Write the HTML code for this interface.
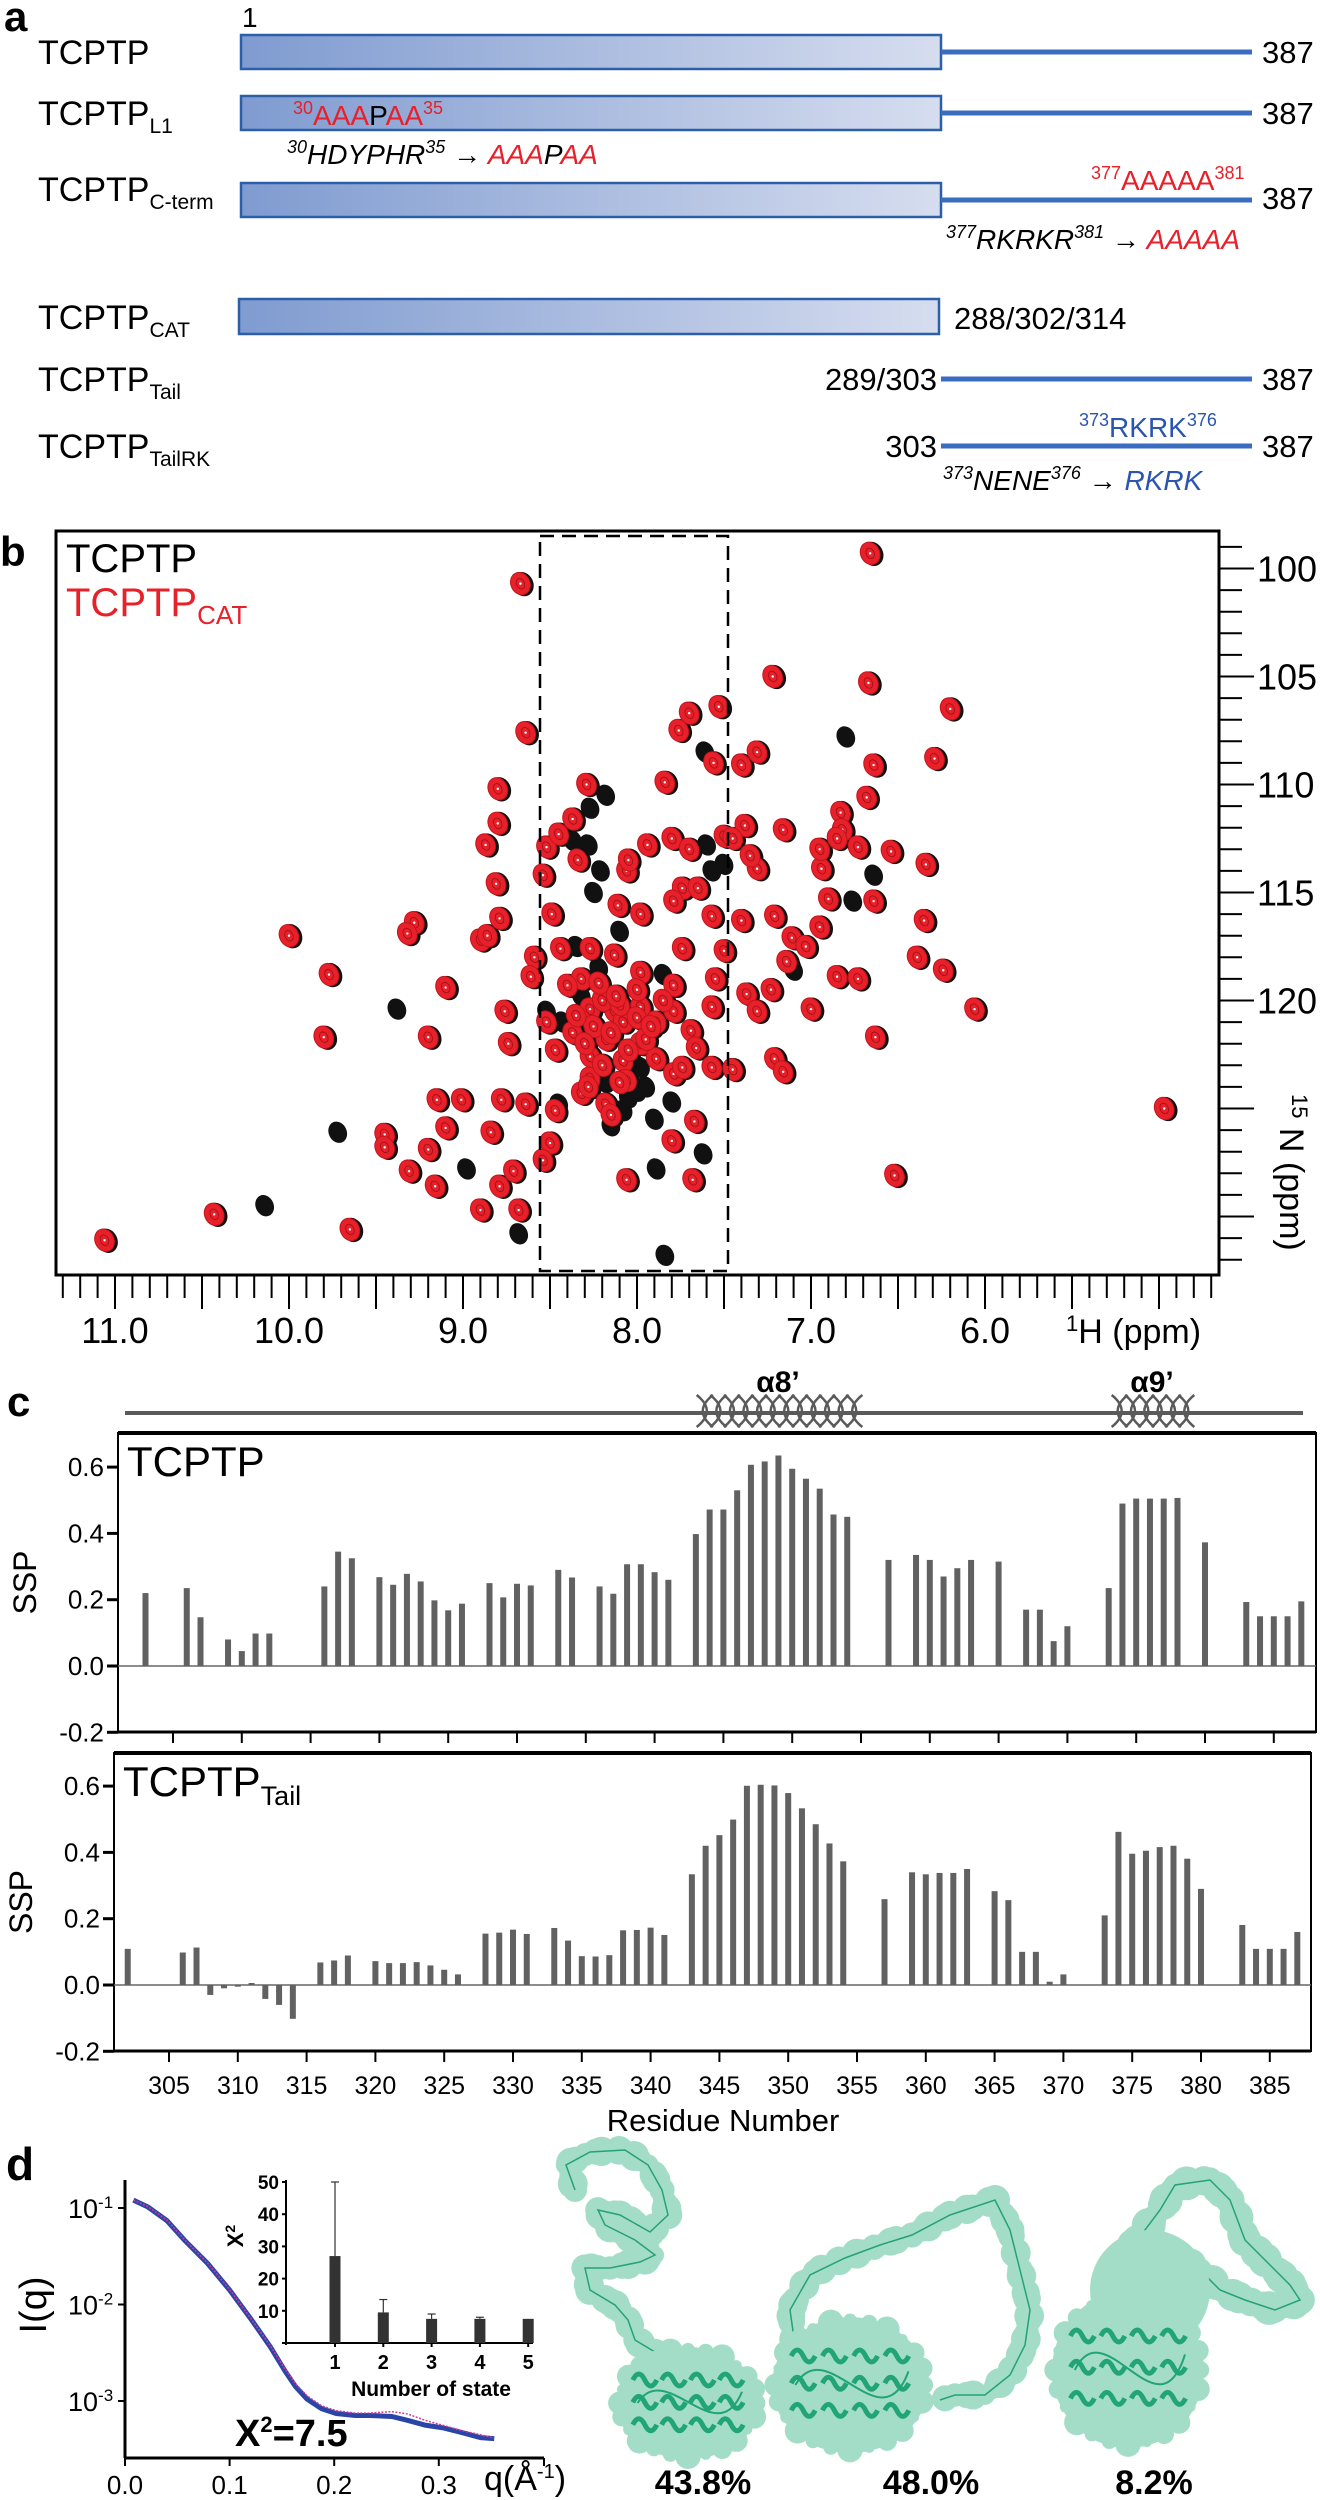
<!DOCTYPE html>
<html><head><meta charset="utf-8">
<style>
html,body{margin:0;padding:0;background:#fff;}
svg{display:block;font-family:"Liberation Sans",Arial,sans-serif;}
</style></head>
<body>
<svg id="fig" width="1320" height="2500" viewBox="0 0 1320 2500" xmlns="http://www.w3.org/2000/svg">
<defs>
<linearGradient id="dom" x1="0" x2="1" y1="0" y2="0">
<stop offset="0" stop-color="#7f9bd0"/><stop offset="1" stop-color="#d6ddef"/>
</linearGradient>
</defs>

<!-- PANEL A -->
<g>
<text x="4" y="31" font-size="42" font-weight="bold">a</text>
<text x="242" y="27" font-size="28">1</text>

<text x="38" y="64" font-size="34">TCPTP</text>
<rect x="241" y="35" width="700" height="34" fill="url(#dom)" stroke="#2d5fa8" stroke-width="2.5"/>
<rect x="941" y="49.5" width="311" height="5" fill="#3a6cc0"/>
<text x="1262" y="63" font-size="31">387</text>

<text x="38" y="125" font-size="34">TCPTP<tspan font-size="21" dy="8">L1</tspan></text>
<rect x="241" y="96" width="700" height="34" fill="url(#dom)" stroke="#2d5fa8" stroke-width="2.5"/>
<rect x="941" y="110.5" width="311" height="5" fill="#3a6cc0"/>
<text x="1262" y="124" font-size="31">387</text>
<text x="293" y="125" font-size="28" fill="#e8202a"><tspan font-size="18" dy="-11">30</tspan><tspan dy="11">AAA</tspan><tspan fill="#000">P</tspan>AA<tspan font-size="18" dy="-11">35</tspan></text>
<text x="287" y="164" font-size="28" font-style="italic"><tspan font-size="18" dy="-11">30</tspan><tspan dy="11">HDYPHR</tspan><tspan font-size="18" dy="-11">35</tspan><tspan dy="11"> → </tspan><tspan fill="#e8202a">AAA</tspan>P<tspan fill="#e8202a">AA</tspan></text>

<text x="38" y="201" font-size="34">TCPTP<tspan font-size="21" dy="8">C-term</tspan></text>
<rect x="241" y="183" width="700" height="34" fill="url(#dom)" stroke="#2d5fa8" stroke-width="2.5"/>
<rect x="941" y="197.5" width="311" height="5" fill="#3a6cc0"/>
<text x="1262" y="209" font-size="31">387</text>
<text x="1091" y="190" font-size="28" fill="#e8202a"><tspan font-size="18" dy="-11">377</tspan><tspan dy="11">AAAAA</tspan><tspan font-size="18" dy="-11">381</tspan></text>
<text x="946" y="249" font-size="28" font-style="italic"><tspan font-size="18" dy="-11">377</tspan><tspan dy="11">RKRKR</tspan><tspan font-size="18" dy="-11">381</tspan><tspan dy="11"> → </tspan><tspan fill="#e8202a">AAAAA</tspan></text>

<text x="38" y="329" font-size="34">TCPTP<tspan font-size="21" dy="8">CAT</tspan></text>
<rect x="239" y="299" width="700" height="35" fill="url(#dom)" stroke="#2d5fa8" stroke-width="2.5"/>
<text x="954" y="329" font-size="31">288/302/314</text>

<text x="38" y="391" font-size="34">TCPTP<tspan font-size="21" dy="8">Tail</tspan></text>
<text x="937" y="390" font-size="31" text-anchor="end">289/303</text>
<rect x="941" y="376.5" width="311" height="5" fill="#3a6cc0"/>
<text x="1262" y="390" font-size="31">387</text>

<text x="38" y="458" font-size="34">TCPTP<tspan font-size="21" dy="8">TailRK</tspan></text>
<text x="937" y="457" font-size="31" text-anchor="end">303</text>
<rect x="941" y="443.5" width="311" height="5" fill="#3a6cc0"/>
<text x="1262" y="457" font-size="31">387</text>
<text x="1079" y="437" font-size="28" fill="#2b55b0"><tspan font-size="18" dy="-11">373</tspan><tspan dy="11">RKRK</tspan><tspan font-size="18" dy="-11">376</tspan></text>
<text x="943" y="490" font-size="28" font-style="italic"><tspan font-size="18" dy="-11">373</tspan><tspan dy="11">NENE</tspan><tspan font-size="18" dy="-11">376</tspan><tspan dy="11"> → </tspan><tspan fill="#2b55b0">RKRK</tspan></text>
</g>

<!-- PANEL B -->
<g>
<text x="0" y="566" font-size="42" font-weight="bold">b</text>
<g id="nmrPeaks"></g>
<rect x="56" y="531" width="1163" height="744" fill="none" stroke="#000" stroke-width="3"/>
<rect x="540" y="536" width="188" height="735" fill="none" stroke="#000" stroke-width="2.5" stroke-dasharray="14,8"/>
<g id="nmrAxes"></g>
<text x="66" y="572" font-size="40">TCPTP</text>
<text x="66" y="616" font-size="40" fill="#e8202a">TCPTP<tspan font-size="26" dy="8">CAT</tspan></text>
<text x="1066" y="1343" font-size="34"><tspan font-size="22" dy="-12">1</tspan><tspan dy="12">H (ppm)</tspan></text>
<text transform="translate(1280,1094) rotate(90)" font-size="34"><tspan font-size="22" dy="-12">15</tspan><tspan dy="12"> N (ppm)</tspan></text>
</g>

<!-- PANEL C -->
<g>
<text x="7" y="1416" font-size="42" font-weight="bold">c</text>
<line x1="125" y1="1413" x2="1303" y2="1413" stroke="#5a5a5a" stroke-width="4"/>
<g id="helices"></g>
<text x="778" y="1392" font-size="30" font-weight="bold" text-anchor="middle">α8’</text>
<text x="1152" y="1392" font-size="30" font-weight="bold" text-anchor="middle">α9’</text>
<g id="sspTop"></g>
<g id="sspBot"></g>
<text x="723" y="2131" font-size="31" text-anchor="middle">Residue Number</text>
</g>

<!-- PANEL D -->
<g>
<text x="6" y="2180" font-size="46" font-weight="bold">d</text>
<g id="saxs"></g>
<g id="inset"></g>
<g id="structs"></g>
<text x="703" y="2494" font-size="34" font-weight="bold" text-anchor="middle">43.8%</text>
<text x="931" y="2494" font-size="34" font-weight="bold" text-anchor="middle">48.0%</text>
<text x="1154" y="2494" font-size="34" font-weight="bold" text-anchor="middle">8.2%</text>
</g>
</svg>

<script>
const NS = "http://www.w3.org/2000/svg";
function mk(tag, parent, attrs) {
  const e = document.createElementNS(NS, tag);
  for (const k in attrs) e.setAttribute(k, attrs[k]);
  parent.appendChild(e);
  return e;
}

/* ===== NMR data (ppm) ===== */
const redH = [6.66,8.67,7.22,6.67,7.53,6.20,7.70,8.64,7.76,7.31,6.29,7.56,7.40,6.64,8.80,8.29,7.84,8.80,8.37,6.68,6.83,8.87,8.52,7.94,7.80,6.54,6.34,8.81,8.54,8.34,8.06,7.38,7.16,6.82,6.73,7.50,7.31,6.94,6.90,6.64,6.35,8.79,8.49,8.11,7.74,7.65,7.98,7.79,7.57,7.40,7.21,10.00,9.28,9.32,8.90,8.86,6.95,7.11,7.03,8.59,8.44,8.27,8.13,7.74,7.50,9.77,9.10,8.61,8.32,7.98,7.79,7.55,7.14,6.85,6.73,6.24,6.39,7.37,7.23,7.31,7.00,6.06,8.76,8.52,8.27,8.13,7.98,7.79,7.57,8.08,7.89,8.37,8.18,7.98,7.69,9.80,9.20,8.74,8.47,8.27,8.08,7.89,7.66,6.63,7.21,7.16,7.45,7.57,7.79,7.74,8.27,8.06,8.32,8.18,9.15,9.01,8.78,8.64,8.47,8.15,7.67,4.97,9.10,8.84,9.45,9.45,9.20,8.50,8.54,7.80,9.31,8.71,9.16,8.79,8.06,7.68,6.52,10.43,8.90,8.68,9.65,11.06,
  8.20,8.10,8.00,8.25,8.15,7.95,8.05,8.30,8.35,7.85,8.20,8.10,8.28,8.00,8.40,7.70,7.45,7.35,6.95,6.85,8.45,8.05,8.12,8.22,7.92];
const redN = [99.3,100.7,105.0,105.3,106.4,106.5,106.7,107.6,107.5,108.5,108.8,109.0,109.1,109.1,110.2,110.0,109.9,111.8,111.6,110.6,111.3,112.8,112.9,112.8,112.5,113.1,113.7,114.6,114.2,113.5,114.0,111.9,112.1,112.1,112.9,112.4,113.9,113.9,115.3,115.4,116.3,116.2,116.0,115.6,114.8,114.8,116.0,115.4,116.1,116.3,116.1,117.0,116.4,116.9,117.2,117.0,116.6,117.1,117.5,118.0,117.6,117.6,117.9,117.6,117.7,118.8,119.4,118.9,119.0,118.7,119.3,119.0,118.2,118.9,119.0,118.6,118.0,119.7,119.5,120.5,120.4,120.4,120.5,121.0,120.4,120.5,120.3,120.5,120.3,121.0,121.0,121.5,121.8,122.0,121.4,121.7,121.7,122.0,122.3,122.6,122.8,122.7,122.2,121.7,122.7,123.3,123.2,123.1,123.4,123.1,123.6,123.7,124.3,124.8,124.6,124.6,124.6,124.8,125.1,125.3,125.6,125.0,125.9,126.1,126.2,126.8,126.9,126.6,127.4,126.5,127.9,127.9,128.6,128.6,128.3,128.3,128.1,129.9,129.7,129.7,130.6,131.1,
  120.0,120.2,120.8,121.2,121.5,121.8,122.3,122.0,120.7,120.0,123.0,123.8,124.0,119.5,119.3,113.0,112.5,113.3,113.0,112.5,112.3,113.5,119.8,119.2,121.2];
const blackOnlyH = [7.61,8.18,8.27,9.72,8.98,7.84,7.80,8.21,8.37,7.50,7.57,8.08,7.98,8.18,8.32,8.52,7.11,6.80,6.64,6.76,7.89,7.62,8.68,9.38,10.14,8.43,7.90,8.00,8.25,8.10,8.35,8.22,7.85,8.45,8.05,7.60,7.10,8.28,8.15,7.95];
const blackOnlyN = [108.5,110.5,111.1,126.1,127.8,131.8,124.7,114.0,112.6,113.7,114.0,125.1,123.1,123.8,119.8,120.5,118.4,107.8,114.2,115.4,127.8,127.1,130.8,120.4,129.5,121.0,125.5,124.2,115.0,116.8,117.5,118.5,118.8,124.8,124.5,112.8,118.6,112.8,125.8,124.0];
const xTickMajor = [11.0,10.0,9.0,8.0,7.0,6.0];
const yTickMajor = [100,105,110,115,120];

const xPPM = h => 115 + (11 - h) * 174;
const yPPM = n => 568.5 + (n - 100) * 21.6;

const peaks = document.getElementById('nmrPeaks');
for (let i = 0; i < blackOnlyH.length; i++) {
  const cx = xPPM(blackOnlyH[i]), cy = yPPM(blackOnlyN[i]);
  const e = mk('ellipse', peaks, {cx: cx, cy: cy, rx: 9, ry: 11, fill: '#111', transform: `rotate(-25 ${cx} ${cy})`});
  
  
}
for (let i = 0; i < redH.length; i++) {
  const cx = xPPM(redH[i]), cy = yPPM(redN[i]);
  const b = mk('ellipse', peaks, {cx: cx + 2, cy: cy + 1.5, rx: 10.5, ry: 12.5, fill: '#111', transform: `rotate(-25 ${cx} ${cy})`});
  
  
}
for (let i = 0; i < redH.length; i++) {
  const cx = xPPM(redH[i]), cy = yPPM(redN[i]);
  const r = mk('ellipse', peaks, {cx: cx, cy: cy, rx: 9.5, ry: 11.5, fill: '#e8202a', stroke: '#c0141c', 'stroke-width': 1, transform: `rotate(-25 ${cx} ${cy})`});
  
  
  mk('ellipse', peaks, {cx: cx, cy: cy, rx: 4, ry: 5.5, fill: 'none', stroke: '#9a1016', 'stroke-width': 0.8, transform: `rotate(-25 ${cx} ${cy})`});
  mk('circle', peaks, {cx: cx, cy: cy, r: 1.2, fill: '#fff'});
}

const ax = document.getElementById('nmrAxes');
for (let k = 113; k >= 47; k--) {
  const h = k / 10;
  const major = k % 5 === 0;
  const t = mk('line', ax, {x1: xPPM(h), x2: xPPM(h), y1: 1276, y2: 1276 + (major ? 33 : 22), stroke: '#000', 'stroke-width': 2});
  
  
}
xTickMajor.forEach(h => {
  const t = mk('text', ax, {x: xPPM(h), y: 1343, 'font-size': 36, 'text-anchor': 'middle'});
  t.textContent = h.toFixed(1);
  
  
});
for (let n = 99; n <= 132; n++) {
  const major = n % 5 === 0;
  const t = mk('line', ax, {x1: 1219, x2: 1219 + (major ? 35 : 23), y1: yPPM(n), y2: yPPM(n), stroke: '#000', 'stroke-width': 2});
  
  
}
yTickMajor.forEach(n => {
  const t = mk('text', ax, {x: 1257, y: yPPM(n) + 13, 'font-size': 36});
  t.textContent = n;
  
  
});

/* ===== Helix markers ===== */
const hel = document.getElementById('helices');
function helix(x0, x1, n) {
  const step = (x1 - x0) / n;
  for (let i = 0; i < n; i++) {
    const c = x0 + step * (i + 0.5);
    mk('path', hel, {d: `M${c - step * 0.6},1395 Q${c + step * 0.9},1411 ${c - step * 0.6},1427 M${c + step * 0.6},1395 Q${c - step * 0.9},1411 ${c + step * 0.6},1427`, fill: 'none', stroke: '#5a5a5a', 'stroke-width': 2.5});
  }
}
helix(698, 861, 12);
helix(1113, 1193, 6);

/* ===== SSP data ===== */
const topRes = [303,306,307,309,310,311,312,316,317,318,320,321,322,323,324,325,326,328,329,330,331,333,334,336,337,338,339,340,341,343,344,345,346,347,348,349,350,351,352,353,354,357,359,360,361,362,363,365,367,368,369,370,373,374,375,376,377,378,380,383,384,385,386,387];
const topSSP = [0.22,0.235,0.147,0.08,0.045,0.098,0.098,0.24,0.345,0.325,0.268,0.245,0.278,0.255,0.198,0.168,0.188,0.25,0.207,0.248,0.243,0.29,0.267,0.24,0.218,0.307,0.307,0.283,0.26,0.398,0.472,0.472,0.53,0.607,0.617,0.635,0.595,0.565,0.535,0.457,0.45,0.32,0.335,0.32,0.27,0.295,0.32,0.315,0.17,0.17,0.075,0.12,0.235,0.49,0.505,0.505,0.505,0.507,0.373,0.193,0.15,0.15,0.15,0.195];
const botRes = [302,306,307,308,309,310,311,312,313,314,316,317,318,320,321,322,323,324,325,326,328,329,330,331,333,334,335,336,337,338,339,340,341,343,344,345,346,347,348,349,350,351,352,353,354,357,359,360,361,362,363,365,366,367,368,369,370,373,374,375,376,377,378,379,380,383,384,385,386,387];
const botSSP = [0.109,0.098,0.113,-0.03,-0.01,-0.005,0.006,-0.042,-0.06,-0.102,0.068,0.074,0.089,0.072,0.066,0.066,0.069,0.059,0.046,0.032,0.155,0.158,0.167,0.154,0.172,0.134,0.087,0.086,0.09,0.165,0.166,0.173,0.151,0.334,0.42,0.452,0.499,0.601,0.604,0.602,0.579,0.533,0.485,0.427,0.373,0.259,0.34,0.334,0.338,0.338,0.35,0.283,0.256,0.1,0.1,0.01,0.032,0.21,0.462,0.396,0.405,0.416,0.42,0.381,0.29,0.181,0.109,0.109,0.109,0.16];
const sspTicks = [0.6,0.4,0.2,0.0,-0.2];
const resTicks = [305,310,315,320,325,330,335,340,345,350,355,360,365,370,375,380,385];

function sspChart(gId, res, vals, box, x0, zeroY, label, sub, showXLabels) {
  const g = document.getElementById(gId);
  const xs = r => x0 + (r - 305) * 13.76;
  const ys = v => zeroY - v * 331.5;
  const fr = mk('rect', g, {x: box.x, y: box.y, width: box.w, height: box.h, fill: 'none', stroke: '#000', 'stroke-width': 2});
  
  
  mk('line', g, {x1: box.x, x2: box.x + box.w, y1: box.y, y2: box.y, stroke: '#000', 'stroke-width': 4});
  mk('line', g, {x1: box.x, x2: box.x + box.w, y1: box.y + box.h, y2: box.y + box.h, stroke: '#000', 'stroke-width': 3});
  mk('line', g, {x1: box.x, x2: box.x + box.w, y1: zeroY, y2: zeroY, stroke: '#666', 'stroke-width': 1.5});
  for (let i = 0; i < res.length; i++) {
    const v = vals[i];
    const b = mk('rect', g, {x: xs(res[i]) - 3, y: Math.min(ys(v), zeroY), width: 6, height: Math.abs(ys(v) - zeroY), fill: '#616161'});
    
    
  }
  sspTicks.forEach(t => {
    const tk = mk('line', g, {x1: box.x - 11, x2: box.x, y1: ys(t), y2: ys(t), stroke: '#000', 'stroke-width': 3});
    
    
    const tl = mk('text', g, {x: box.x - 14, y: ys(t) + 9, 'font-size': 26, 'text-anchor': 'end'});
    tl.textContent = t.toFixed(1);
    
    
  });
  resTicks.forEach(r => {
    const tk = mk('line', g, {x1: xs(r), x2: xs(r), y1: box.y + box.h, y2: box.y + box.h + 11, stroke: '#000', 'stroke-width': 2});
    
    
    if (showXLabels) {
      const tl = mk('text', g, {x: xs(r), y: 2094, 'font-size': 25, 'text-anchor': 'middle'});
      tl.textContent = r;
      
      
    }
  });
  const yt = mk('text', g, {transform: `translate(${box.x - 82},${box.y + box.h / 2}) rotate(-90)`, 'font-size': 32, 'text-anchor': 'middle'});
  yt.textContent = 'SSP';
  
  
  const lt = mk('text', g, {x: box.x + 9, y: box.y + 43, 'font-size': 42});
  lt.textContent = label;
  
  
  if (sub) {
    const s = mk('tspan', lt, {'font-size': 27, dy: 9});
    s.textContent = sub;
  }
}
sspChart('sspTop', topRes, topSSP, {x: 118, y: 1433, w: 1198, h: 299}, 173, 1666, 'TCPTP', null, false);
sspChart('sspBot', botRes, botSSP, {x: 114, y: 1753, w: 1197, h: 298}, 169, 1985, 'TCPTP', 'Tail', true);

/* ===== SAXS ===== */
const qFit = [0.008,0.022,0.040,0.057,0.079,0.100,0.121,0.139,0.153,0.163,0.174,0.188,0.202,0.220,0.234,0.255,0.270,0.287,0.305,0.323,0.340,0.353];
const logIFit = [-0.918,-0.987,-1.124,-1.33,-1.57,-1.845,-2.155,-2.43,-2.67,-2.82,-2.945,-3.05,-3.10,-3.125,-3.125,-3.11,-3.134,-3.20,-3.255,-3.31,-3.35,-3.385];
const qData = [0.008,0.022,0.040,0.057,0.079,0.100,0.121,0.139,0.153,0.163,0.174,0.188,0.202,0.220,0.234,0.255,0.270,0.287,0.305,0.323,0.340,0.353];
const logIData = [-0.918,-0.99,-1.13,-1.335,-1.575,-1.85,-2.16,-2.44,-2.69,-2.85,-2.98,-3.08,-3.13,-3.15,-3.15,-3.16,-3.2,-3.25,-3.28,-3.33,-3.38,-3.39];
const qTicks = [0.0,0.1,0.2,0.3];
const logTicks = [-1,-2,-3];
const sx = q => 125 + q * 1046;
const sy = l => 2208 - (l + 1) * 96.5;
const sg = document.getElementById('saxs');
mk('line', sg, {x1: 125, x2: 125, y1: 2180, y2: 2458, stroke: '#000', 'stroke-width': 3});
mk('line', sg, {x1: 124, x2: 544, y1: 2458, y2: 2458, stroke: '#000', 'stroke-width': 3});
qTicks.forEach(q => {
  const t = mk('line', sg, {x1: sx(q), x2: sx(q), y1: 2458, y2: 2466, stroke: '#000', 'stroke-width': 2});
  
  
  const l = mk('text', sg, {x: sx(q), y: 2494, 'font-size': 26, 'text-anchor': 'middle'});
  l.textContent = q.toFixed(1);
  
  
});
mk('line', sg, {x1: 544, x2: 544, y1: 2458, y2: 2466, stroke: '#000', 'stroke-width': 2});
logTicks.forEach(p => {
  const t = mk('line', sg, {x1: 118, x2: 125, y1: sy(p), y2: sy(p), stroke: '#000', 'stroke-width': 2});
  
  
  const l = mk('text', sg, {x: 68, y: sy(p) + 10, 'font-size': 27});
  l.textContent = '10';
  const s = mk('tspan', l, {'font-size': 17, dy: -10});
  s.textContent = String(p);
  
  
});
const yl = mk('text', sg, {transform: 'translate(46,2305) rotate(-90)', 'font-size': 38, 'text-anchor': 'middle'});
yl.textContent = 'I(q)';


const xl = mk('text', sg, {x: 484, y: 2490, 'font-size': 34});
xl.textContent = 'q(Å';
const xs2 = mk('tspan', xl, {'font-size': 20, dy: -12}); xs2.textContent = '-1';
const xs3 = mk('tspan', xl, {dy: 12}); xs3.textContent = ')';


const dpath = qData.map((q, i) => (i ? 'L' : 'M') + sx(q) + ',' + sy(logIData[i])).join(' ');
const dl = mk('path', sg, {d: dpath, fill: 'none', stroke: '#2a45a8', 'stroke-width': 5});


const fpath = qFit.map((q, i) => (i ? 'L' : 'M') + sx(q) + ',' + sy(logIFit[i])).join(' ');
const fl = mk('path', sg, {d: fpath, fill: 'none', stroke: '#d23a9a', 'stroke-width': 1.5, 'stroke-dasharray': '2,1.5'});


const chi = mk('text', sg, {x: 235, y: 2446, 'font-size': 38, 'font-weight': 'bold'});
chi.textContent = 'X';
const c2 = mk('tspan', chi, {'font-size': 22, dy: -14}); c2.textContent = '2';
const c3 = mk('tspan', chi, {dy: 14}); c3.textContent = '=7.5';



/* ===== Inset ===== */
const states = [1,2,3,4,5];
const chi2Vals = [27,9.5,7.5,7.5,7.5];
const chi2Err = [23,4,1.5,0.5,0];
const chiTicks = [10,20,30,40,50];
const ig = document.getElementById('inset');
const ix = s => 335 + (s - 1) * 48.3;
const iy = v => 2343 - v * 3.22;
mk('line', ig, {x1: 286, x2: 286, y1: 2180, y2: 2345, stroke: '#000', 'stroke-width': 2});
mk('line', ig, {x1: 282, x2: 533, y1: 2343, y2: 2343, stroke: '#000', 'stroke-width': 2});
chiTicks.forEach(v => {
  mk('line', ig, {x1: 282, x2: 286, y1: iy(v), y2: iy(v), stroke: '#000', 'stroke-width': 2});
  const l = mk('text', ig, {x: 279, y: iy(v) + 7, 'font-size': 19, 'font-weight': 'bold', 'text-anchor': 'end'});
  l.textContent = v;
  
  
});
states.forEach((s, i) => {
  const b = mk('rect', ig, {x: ix(s) - 5.5, y: iy(chi2Vals[i]), width: 11, height: 2343 - iy(chi2Vals[i]), fill: '#333'});
  
  
  if (chi2Err[i] > 0) {
    mk('line', ig, {x1: ix(s), x2: ix(s), y1: iy(chi2Vals[i]), y2: iy(chi2Vals[i] + chi2Err[i]), stroke: '#333', 'stroke-width': 1.2});
    mk('line', ig, {x1: ix(s) - 4, x2: ix(s) + 4, y1: iy(chi2Vals[i] + chi2Err[i]), y2: iy(chi2Vals[i] + chi2Err[i]), stroke: '#333', 'stroke-width': 1.2});
  }
  mk('line', ig, {x1: ix(s), x2: ix(s), y1: 2343, y2: 2347, stroke: '#000', 'stroke-width': 2});
  const l = mk('text', ig, {x: ix(s), y: 2369, 'font-size': 20, 'font-weight': 'bold', 'text-anchor': 'middle'});
  l.textContent = s;
  
  
});
const it = mk('text', ig, {x: 431, y: 2396, 'font-size': 21, 'font-weight': 'bold', 'text-anchor': 'middle'});
it.textContent = 'Number of state';


const iyt = mk('text', ig, {transform: 'translate(243,2236) rotate(-90)', 'font-size': 22, 'font-weight': 'bold', 'text-anchor': 'middle'});
iyt.textContent = 'X';
const iys = mk('tspan', iyt, {'font-size': 14, dy: -8}); iys.textContent = '2';



/* ===== Structures (illustration) ===== */
const st = document.getElementById('structs');
function chain(g, pts, r) {
  for (let i = 0; i < pts.length - 1; i++) {
    const [x0, y0] = pts[i], [x1, y1] = pts[i + 1];
    const d = Math.hypot(x1 - x0, y1 - y0), n = Math.max(1, Math.round(d / 6));
    for (let k = 0; k < n; k++) {
      const t = k / n;
      const w = r + 3 * Math.sin((i * 7 + k) * 1.7);
      mk('circle', g, {cx: x0 + (x1 - x0) * t, cy: y0 + (y1 - y0) * t, r: w, fill: '#9fdcc6'});
    }
  }
  mk('polyline', g, {points: pts.map(p => p.join(',')).join(' '), fill: 'none', stroke: '#1a9c72', 'stroke-width': 1.5});
}
function domain(g, cx, cy, rx, ry) {
  mk('ellipse', g, {cx, cy, rx, ry, fill: '#9fdcc6'});
  for (let a = 0; a < 24; a++) {
    const th = a / 24 * Math.PI * 2;
    mk('circle', g, {cx: cx + Math.cos(th) * rx * 0.95, cy: cy + Math.sin(th) * ry * 0.95, r: 9 + 4 * Math.sin(a * 2.3), fill: '#9fdcc6'});
  }
  for (let k = 0; k < 12; k++) {
    const ox = cx - rx * 0.6 + (k % 4) * rx * 0.4, oy = cy - ry * 0.5 + Math.floor(k / 4) * ry * 0.4;
    mk('path', g, {d: `M${ox - 12},${oy + 5} q6,-12 12,0 q6,12 12,0`, fill: 'none', stroke: '#16a070', 'stroke-width': 5});
  }
  mk('path', g, {d: `M${cx - rx * 0.7},${cy} C${cx - rx * 0.3},${cy - ry * 0.8} ${cx + rx * 0.4},${cy + ry * 0.9} ${cx + rx * 0.75},${cy - ry * 0.2}`, fill: 'none', stroke: '#16a070', 'stroke-width': 2});
}
const g1 = mk('g', st, {opacity: 0.95});


chain(g1, [[575,2190],[566,2165],[590,2152],[625,2150],[648,2165],[662,2190],[668,2215],[650,2232],[620,2215],[598,2210],[605,2225],[635,2240],[655,2255],[640,2262],[610,2268],[585,2268],[590,2290],[615,2305],[628,2320],[635,2340],[660,2355]], 12);
domain(g1, 688, 2403, 72, 56);
const g2 = mk('g', st, {opacity: 0.95});


chain(g2, [[795,2345],[790,2310],[810,2275],[845,2258],[880,2245],[912,2235],[950,2215],[995,2200],[1010,2230],[1020,2270],[1030,2310],[1025,2345],[1010,2375],[985,2395],[955,2395],[940,2400]], 12);
domain(g2, 850, 2385, 78, 68);
const g3 = mk('g', st, {opacity: 0.95});


chain(g3, [[1110,2290],[1130,2250],[1160,2210],[1175,2185],[1210,2180],[1230,2200],[1245,2240],[1265,2260],[1290,2285],[1300,2300],[1275,2310],[1245,2300],[1220,2290],[1200,2270],[1180,2260]], 14);
mk('ellipse', g3, {cx: 1150, cy: 2290, rx: 60, ry: 60, fill: '#9fdcc6'});
domain(g3, 1128, 2370, 76, 78);
</script>
</body></html>
